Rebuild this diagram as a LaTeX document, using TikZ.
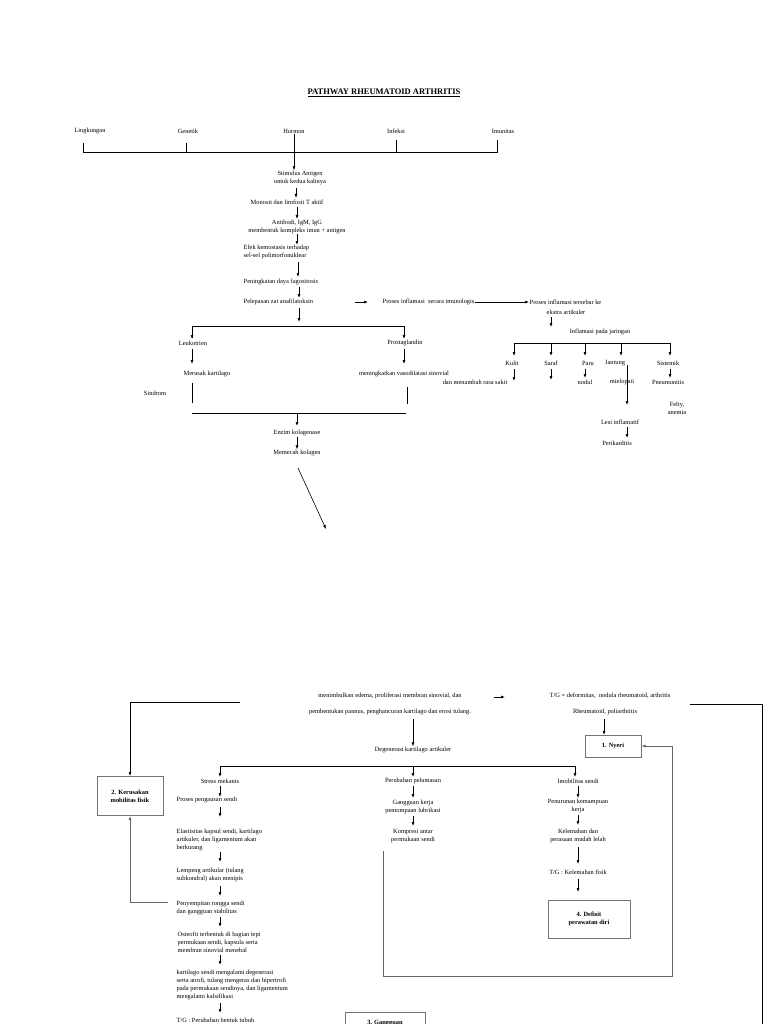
\documentclass[tikz,border=0pt]{standalone}
\usepackage{fontspec}
\setmainfont{Liberation Serif}
\usetikzlibrary{arrows.meta}
\begin{document}
\begin{tikzpicture}[x=1pt,y=-1pt,
  t/.style={inner sep=0.5pt,font=\fontsize{6.4}{8}\selectfont,align=center},
  tl/.style={t,anchor=west,align=left},
  ar/.style={-{Latex[length=4pt,width=3pt]},line width=0.6pt},
  ln/.style={line width=0.6pt},
  gl/.style={line width=1pt,draw=black!60},
  bx/.style={t,draw=black!55,line width=1pt,font=\fontsize{6.4}{8}\selectfont\bfseries}]
\useasboundingbox[fill=white] (0,0) rectangle (768,1024);
\node[font=\fontsize{8.5}{10}\selectfont\bfseries] (title) at (384,93) {\underline{PATHWAY RHEUMATOID ARTHRITIS}};
% top factors
\node[t] (lin) at (90,131) {Lingkungan};
\node[t] (gen) at (188,131) {Genetik};
\node[t] (hor) at (294,131) {Hormon};
\node[t] (inf) at (396,131) {Infeksi};
\node[t] (imu) at (503,131) {Imunitas};
\coordinate (bl) at (83,152); \coordinate (br) at (497,152);
\draw[ln] (83,143) -- (bl) -- (br) -- (497,140);
\draw[ln] (186,143) -- (186,152);
\draw[ln] (396,140) -- (396,152);
\node[t] (sti) at (300,178) {Stimulus Antigen\\untuk kedua kalinya};
\draw[ar] (hor.south) -- (hor.south |- sti.north);
\node[t] (mon) at (287,202) {Monosit dan limfosit T aktif};
\draw[ar] (296,188) -- (296,198);
\node[t] (ant) at (297,227) {Antibodi, IgM, IgG\\membentuk kompleks imun + antigen};
\draw[ar] (297,207) -- (297,219);
\node[tl] (efe) at (243,252) {Efek kemostasis terhadap\\sel-sel polimorfonuklear};
\draw[ar] (297,234) -- (297,245);
\node[tl] (pen) at (243,282) {Peningkatan daya fagositosis};
\draw[ar] (298,262) -- (298,277);
\node[tl] (pel) at (243,302) {Pelepasan zat anafilatoksin};
\draw[ar] (299,287) -- (299,298);
\node[tl] (pro) at (382,302) {Proses inflamasi\ \ secara imunologis};
\draw[ar] (355,302) -- (368,302);
\node[tl] (pro2) at (529,302) {Proses inflamasi tersebar ke};
\node[t] (eks) at (566,312) {ekstra artikuler};
\draw[ar] (pro.east) -- (pro2.west);
% split
\draw[ar] (299,308) -- (299,322);
\draw[ln] (192,338) |- (404,326);
\draw[ar] (192,326) -- (192,339);
\draw[ar] (404,326) -- (404,339);
\node[t] (leu) at (193,343) {Leukotrien};
\node[t] (pgl) at (405,343) {Prostaglandin};
\draw[ar] (192,349) -- (192,364);
\draw[ar] (404,349) -- (404,364);
\node[t] (mer) at (207,374) {Merusak kartilago};
\node[t] (men) at (404,374) {meningkatkan vasodilatasi sinovial};
\node[t,anchor=east] (men2) at (508,382) {dan menambah rasa sakit};
\node[t] (sin) at (155,393) {Sindrom};
\draw[ln] (192,383) -- (192,403);
\draw[ln] (407,387) -- (407,404);
\draw[ln] (192,413) -- (406,413);
\draw[ar] (297,413) -- (297,426);
\node[t] (enz) at (297,433) {Enzim kolagenase};
\node[t] (mem) at (297,453) {Memecah kolagen};
\draw[ar] (enz) -- (mem);
\coordinate (diag) at (326,529);
\draw[ar] (298,468) -- (diag);
% right branch
\draw[ar] (551,317) -- (551,327);
\node[t] (jar) at (600,332) {Inflamasi pada jaringan};
\draw[ln] (514,343) -- (670,343);
\foreach \x in {514,551,585,621,670} \draw[ar] (\x,343) -- (\x,356);
\node[t] (kul) at (512,363) {Kulit};
\node[t] (sar) at (551,363) {Saraf};
\node[t] (par) at (588,363) {Paru};
\node[t] (jan) at (615,363) {Jantung};
\node[t] (sis) at (668,363) {Sistemik};
\draw[ar] (514,369) -- (514,381);
\draw[ar] (551,369) -- (551,380);
\draw[ar] (585,369) -- (585,378);
\draw[ar] (670,369) -- (670,378);
\node[t] (nod) at (585,382) {nodul};
\node[t] (mie) at (622,382) {mielopati};
\node[t] (pne) at (668,382) {Pneumonitis};
\node[t] (fel) at (677,408) {Felty,\\anemia};
\draw[ar] (627,365) -- (627,405);
\node[t] (les) at (620,422) {Lesi inflamatif};
\node[t] (per) at (617,443) {Perikarditis};
\draw[ar] (627,427) -- (627,438);
% bottom part
\node[t] (ede) at (390,696) {menimbulkan edema, proliferasi membran sinovial, dan};
\node[t] (ede2) at (390,712) {pembentukan pannus, penghancuran kartilago dan erosi tulang.};
\draw[ar] (494,697) -- (505,697);
\node[t] (tg1) at (610,696) {T/G = deformitas,\ \ nodula rheumatoid, arthritis};
\node[t] (tg2) at (605,712) {Rheumatoid, poliarthtitis};
\node[bx,minimum width=56pt,minimum height=22pt] (ny) at (613,746) {1. Nyeri};
\draw[ar] (604,719) -- (604,735);
\node[bx,minimum width=66pt,minimum height=39pt] (k2) at (130,796) {2. Kerusakan\\mobilitas fisik};
\draw[ln,-{Latex[length=4pt,width=3pt]}] (240,702) -| (k2.north);
\draw[ln] (690,704) -- (762,704) -- (762,1030);
\node[t] (deg) at (413,750) {Degenerasi kartilago artikuler};
\draw[ar] (413,719) -- (deg.north);
\draw[ln] (220,766) -- (575,766);
\foreach \x in {220,413,575} \draw[ar] (\x,766) -- (\x,777);
% left column
\node[t] (st) at (220,781) {Stress mekanis};
\node[tl] (ps) at (176,800) {Proses pengausan sendi};
\draw[ar] (220,786) -- (220,797);
\draw[ar] (220,807) -- (220,817);
\node[tl] (el) at (176,840) {Elastisitas kapsul sendi, kartilago\\artikuler, dan ligamentum akan\\berkurang};
\draw[ar] (220,852) -- (220,862);
\node[tl] (le) at (176,875) {Lempeng artikular (tulang\\subkondral) akan menipis};
\draw[ar] (220,886) -- (220,896);
\node[tl] (py) at (176,908) {Penyempitan rongga sendi\\dan gangguan stabilitas};
\draw[ar] (220,917) -- (220,927);
\node[tl] (os) at (177,942) {Osteofit terbentuk di bagian tepi\\permukaan sendi, kapsula serta\\membran sinovial menebal};
\draw[ar] (220,955) -- (220,965);
\node[tl] (ka) at (176,985) {kartilago sendi mengalami degenerasi\\serta atrofi, tulang mengeras dan hipertrofi\\pada permukaan sendinya, dan ligamentum\\mengalami kalsifikasi};
\draw[ar] (220,1003) -- (220,1013);
\node[tl] (tgb) at (176,1020) {T/G : Perubahan bentuk tubuh};
\draw[gl,-{Latex[length=4pt,width=3pt]}] (168,902) -| (k2.south);
% middle column
\node[t] (pl) at (413,781) {Perubahan pelumasan};
\node[t] (gg) at (413,807) {Gangguan kerja\\pemompaan lubrikasi};
\draw[ar] (413,786) -- (413,798);
\draw[ar] (413,816) -- (413,826);
\node[t] (ko) at (413,836) {Kompresi antar\\permukaan sendi};
\draw[gl,-{Latex[length=4pt,width=3pt]}] (383,851) -- (383,976) -- (672,976) -- (672,746) -- (ny.east);
% right column
\node[t] (im) at (578,781) {Imobilitas sendi};
\node[t] (pk) at (578,806) {Penurunan kemampuan\\kerja};
\draw[ar] (578,786) -- (578,798);
\draw[ar] (578,815) -- (578,825);
\node[t] (kl) at (578,836) {Kelemahan dan\\perasaan mudah lelah};
\draw[ar] (578,847) -- (578,864);
\node[t] (tgk) at (578,872) {T/G : Kelemahan fisik};
\draw[ar] (578,879) -- (578,892);
\node[bx,minimum width=82pt,minimum height=38pt] (d4) at (589,919) {4. Defisit\\perawatan diri};
\node[bx,minimum width=80pt,minimum height=22pt,anchor=north] (g3) at (385,1012) {3. Gangguan};
\end{tikzpicture}
\end{document}
